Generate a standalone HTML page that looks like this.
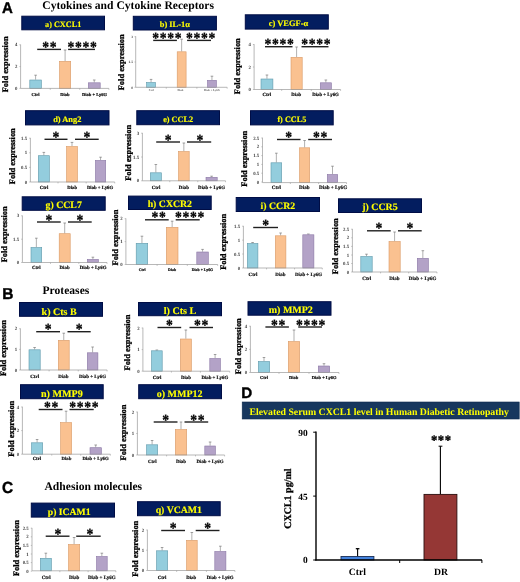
<!DOCTYPE html>
<html><head><meta charset="utf-8"><title>Figure</title>
<style>html,body{margin:0;padding:0;background:#fff;} svg{display:block;}</style>
</head><body>
<svg width="520" height="582" viewBox="0 0 520 582" text-rendering="geometricPrecision">
<rect width="520" height="582" fill="#fff"/>
<rect x="21.80" y="16.20" width="82.70" height="13.60" fill="#031d5f" stroke="#000d45" stroke-width="1.0"/>
<text x="63.15" y="26.85" font-family="'Liberation Serif', 'Times New Roman', serif" font-weight="bold" font-size="8.2" fill="#ffff00" text-anchor="middle" stroke="#ffff00" stroke-width="0.12">a) CXCL1</text>
<text x="0" y="0" font-family="'Liberation Serif', 'Times New Roman', serif" font-weight="bold" font-size="8.4" text-anchor="middle" stroke="#000" stroke-width="0.3" transform="translate(7.95,64.30) rotate(-90)">Fold expression</text>
<line x1="35.60" y1="79.70" x2="35.60" y2="75.20" stroke="#7a7a7a" stroke-width="0.6"/>
<line x1="34.30" y1="75.20" x2="36.90" y2="75.20" stroke="#7a7a7a" stroke-width="0.7"/>
<rect x="29.80" y="80.00" width="11.60" height="8.40" fill="#93cddd" stroke="#5f98aa" stroke-width="0.6"/>
<line x1="65.10" y1="61.00" x2="65.10" y2="50.00" stroke="#7a7a7a" stroke-width="0.6"/>
<line x1="63.80" y1="50.00" x2="66.40" y2="50.00" stroke="#7a7a7a" stroke-width="0.7"/>
<rect x="59.50" y="61.30" width="11.20" height="27.10" fill="#fac190" stroke="#d99a66" stroke-width="0.6"/>
<line x1="94.25" y1="82.50" x2="94.25" y2="80.00" stroke="#7a7a7a" stroke-width="0.6"/>
<line x1="92.95" y1="80.00" x2="95.55" y2="80.00" stroke="#7a7a7a" stroke-width="0.7"/>
<rect x="88.30" y="82.80" width="11.90" height="5.60" fill="#b3a2c7" stroke="#8a77a5" stroke-width="0.6"/>
<line x1="20.60" y1="44.50" x2="20.60" y2="88.40" stroke="#9a9a9a" stroke-width="0.7"/>
<line x1="20.60" y1="88.40" x2="108.91" y2="88.40" stroke="#9a9a9a" stroke-width="0.7"/>
<line x1="19.40" y1="44.80" x2="20.60" y2="44.80" stroke="#9a9a9a" stroke-width="0.6"/>
<text x="17.30" y="46.43" font-family="'Liberation Serif', 'Times New Roman', serif" font-weight="bold" font-size="4.8" fill="#444" text-anchor="end" >4</text>
<line x1="19.40" y1="66.60" x2="20.60" y2="66.60" stroke="#9a9a9a" stroke-width="0.6"/>
<text x="17.30" y="68.23" font-family="'Liberation Serif', 'Times New Roman', serif" font-weight="bold" font-size="4.8" fill="#444" text-anchor="end" >2</text>
<line x1="19.40" y1="88.40" x2="20.60" y2="88.40" stroke="#9a9a9a" stroke-width="0.6"/>
<text x="17.30" y="90.03" font-family="'Liberation Serif', 'Times New Roman', serif" font-weight="bold" font-size="4.8" fill="#444" text-anchor="end" >0</text>
<line x1="50.26" y1="88.40" x2="50.26" y2="89.80" stroke="#9a9a9a" stroke-width="0.6"/>
<line x1="79.76" y1="88.40" x2="79.76" y2="89.80" stroke="#9a9a9a" stroke-width="0.6"/>
<line x1="108.91" y1="88.40" x2="108.91" y2="89.80" stroke="#9a9a9a" stroke-width="0.6"/>
<line x1="37.20" y1="49.40" x2="61.00" y2="49.40" stroke="#202020" stroke-width="1.4"/>
<text x="0" y="0" font-family="'Liberation Serif', 'Times New Roman', serif" font-weight="bold" font-size="15.5" text-anchor="middle" stroke="#000" stroke-width="0.3" transform="translate(45.60,51.94) scale(0.88,1)">*</text>
<text x="0" y="0" font-family="'Liberation Serif', 'Times New Roman', serif" font-weight="bold" font-size="15.5" text-anchor="middle" stroke="#000" stroke-width="0.3" transform="translate(53.10,51.94) scale(0.88,1)">*</text>
<line x1="68.10" y1="49.40" x2="95.00" y2="49.40" stroke="#202020" stroke-width="1.4"/>
<text x="0" y="0" font-family="'Liberation Serif', 'Times New Roman', serif" font-weight="bold" font-size="15.5" text-anchor="middle" stroke="#000" stroke-width="0.3" transform="translate(70.90,51.94) scale(0.88,1)">*</text>
<text x="0" y="0" font-family="'Liberation Serif', 'Times New Roman', serif" font-weight="bold" font-size="15.5" text-anchor="middle" stroke="#000" stroke-width="0.3" transform="translate(78.40,51.94) scale(0.88,1)">*</text>
<text x="0" y="0" font-family="'Liberation Serif', 'Times New Roman', serif" font-weight="bold" font-size="15.5" text-anchor="middle" stroke="#000" stroke-width="0.3" transform="translate(85.90,51.94) scale(0.88,1)">*</text>
<text x="0" y="0" font-family="'Liberation Serif', 'Times New Roman', serif" font-weight="bold" font-size="15.5" text-anchor="middle" stroke="#000" stroke-width="0.3" transform="translate(93.40,51.94) scale(0.88,1)">*</text>
<text x="35.60" y="95.60" font-family="'Liberation Serif', 'Times New Roman', serif" font-weight="bold" font-size="4.5" fill="#111" text-anchor="middle" stroke="#111" stroke-width="0.2">Ctrl</text>
<text x="65.00" y="95.60" font-family="'Liberation Serif', 'Times New Roman', serif" font-weight="bold" font-size="4.5" fill="#111" text-anchor="middle" stroke="#111" stroke-width="0.2">Diab</text>
<text x="94.50" y="95.60" font-family="'Liberation Serif', 'Times New Roman', serif" font-weight="bold" font-size="4.5" fill="#111" text-anchor="middle" stroke="#111" stroke-width="0.2">Diab + Ly6G</text>
<rect x="133.30" y="16.30" width="83.10" height="13.70" fill="#031d5f" stroke="#000d45" stroke-width="1.0"/>
<text x="174.85" y="27.10" font-family="'Liberation Serif', 'Times New Roman', serif" font-weight="bold" font-size="8.4" fill="#ffff00" text-anchor="middle" stroke="#ffff00" stroke-width="0.12">b) IL-1α</text>
<text x="0" y="0" font-family="'Liberation Serif', 'Times New Roman', serif" font-weight="bold" font-size="8.4" text-anchor="middle" stroke="#000" stroke-width="0.3" transform="translate(124.35,62.30) rotate(-90)">Fold expression</text>
<line x1="151.05" y1="82.20" x2="151.05" y2="79.40" stroke="#7a7a7a" stroke-width="0.6"/>
<line x1="149.75" y1="79.40" x2="152.35" y2="79.40" stroke="#7a7a7a" stroke-width="0.7"/>
<rect x="146.60" y="82.50" width="8.90" height="4.80" fill="#93cddd" stroke="#5f98aa" stroke-width="0.6"/>
<line x1="181.65" y1="51.50" x2="181.65" y2="39.20" stroke="#7a7a7a" stroke-width="0.6"/>
<line x1="180.35" y1="39.20" x2="182.95" y2="39.20" stroke="#7a7a7a" stroke-width="0.7"/>
<rect x="177.20" y="51.80" width="8.90" height="35.50" fill="#fac190" stroke="#d99a66" stroke-width="0.6"/>
<line x1="211.95" y1="80.00" x2="211.95" y2="76.20" stroke="#7a7a7a" stroke-width="0.6"/>
<line x1="210.65" y1="76.20" x2="213.25" y2="76.20" stroke="#7a7a7a" stroke-width="0.7"/>
<rect x="207.50" y="80.30" width="8.90" height="7.00" fill="#b3a2c7" stroke="#8a77a5" stroke-width="0.6"/>
<line x1="135.70" y1="36.20" x2="135.70" y2="87.30" stroke="#9a9a9a" stroke-width="0.7"/>
<line x1="135.70" y1="87.30" x2="227.17" y2="87.30" stroke="#9a9a9a" stroke-width="0.7"/>
<line x1="134.50" y1="36.70" x2="135.70" y2="36.70" stroke="#9a9a9a" stroke-width="0.6"/>
<text x="133.10" y="37.92" font-family="'Liberation Serif', 'Times New Roman', serif" font-weight="bold" font-size="3.6" fill="#444" text-anchor="end" >3</text>
<line x1="134.50" y1="62.00" x2="135.70" y2="62.00" stroke="#9a9a9a" stroke-width="0.6"/>
<text x="133.10" y="63.22" font-family="'Liberation Serif', 'Times New Roman', serif" font-weight="bold" font-size="3.6" fill="#444" text-anchor="end" >1.5</text>
<line x1="134.50" y1="87.30" x2="135.70" y2="87.30" stroke="#9a9a9a" stroke-width="0.6"/>
<text x="133.10" y="88.52" font-family="'Liberation Serif', 'Times New Roman', serif" font-weight="bold" font-size="3.6" fill="#444" text-anchor="end" >0</text>
<line x1="166.28" y1="87.30" x2="166.28" y2="88.70" stroke="#9a9a9a" stroke-width="0.6"/>
<line x1="196.88" y1="87.30" x2="196.88" y2="88.70" stroke="#9a9a9a" stroke-width="0.6"/>
<line x1="227.17" y1="87.30" x2="227.17" y2="88.70" stroke="#9a9a9a" stroke-width="0.6"/>
<line x1="153.20" y1="40.40" x2="176.90" y2="40.40" stroke="#202020" stroke-width="1.4"/>
<text x="0" y="0" font-family="'Liberation Serif', 'Times New Roman', serif" font-weight="bold" font-size="15.5" text-anchor="middle" stroke="#000" stroke-width="0.3" transform="translate(155.55,42.94) scale(0.88,1)">*</text>
<text x="0" y="0" font-family="'Liberation Serif', 'Times New Roman', serif" font-weight="bold" font-size="15.5" text-anchor="middle" stroke="#000" stroke-width="0.3" transform="translate(163.05,42.94) scale(0.88,1)">*</text>
<text x="0" y="0" font-family="'Liberation Serif', 'Times New Roman', serif" font-weight="bold" font-size="15.5" text-anchor="middle" stroke="#000" stroke-width="0.3" transform="translate(170.55,42.94) scale(0.88,1)">*</text>
<text x="0" y="0" font-family="'Liberation Serif', 'Times New Roman', serif" font-weight="bold" font-size="15.5" text-anchor="middle" stroke="#000" stroke-width="0.3" transform="translate(178.05,42.94) scale(0.88,1)">*</text>
<line x1="187.10" y1="40.40" x2="211.00" y2="40.40" stroke="#202020" stroke-width="1.4"/>
<text x="0" y="0" font-family="'Liberation Serif', 'Times New Roman', serif" font-weight="bold" font-size="15.5" text-anchor="middle" stroke="#000" stroke-width="0.3" transform="translate(189.40,42.94) scale(0.88,1)">*</text>
<text x="0" y="0" font-family="'Liberation Serif', 'Times New Roman', serif" font-weight="bold" font-size="15.5" text-anchor="middle" stroke="#000" stroke-width="0.3" transform="translate(196.90,42.94) scale(0.88,1)">*</text>
<text x="0" y="0" font-family="'Liberation Serif', 'Times New Roman', serif" font-weight="bold" font-size="15.5" text-anchor="middle" stroke="#000" stroke-width="0.3" transform="translate(204.40,42.94) scale(0.88,1)">*</text>
<text x="0" y="0" font-family="'Liberation Serif', 'Times New Roman', serif" font-weight="bold" font-size="15.5" text-anchor="middle" stroke="#000" stroke-width="0.3" transform="translate(211.90,42.94) scale(0.88,1)">*</text>
<text x="151.30" y="90.90" font-family="'Liberation Serif', 'Times New Roman', serif" font-weight="bold" font-size="2.9" fill="#666" text-anchor="middle" stroke="#666" stroke-width="0">Ctrl</text>
<text x="180.40" y="90.90" font-family="'Liberation Serif', 'Times New Roman', serif" font-weight="bold" font-size="2.9" fill="#666" text-anchor="middle" stroke="#666" stroke-width="0">Diab</text>
<text x="212.00" y="90.90" font-family="'Liberation Serif', 'Times New Roman', serif" font-weight="bold" font-size="2.9" fill="#666" text-anchor="middle" stroke="#666" stroke-width="0">Diab + Ly6G</text>
<rect x="245.30" y="14.80" width="83.00" height="14.30" fill="#031d5f" stroke="#000d45" stroke-width="1.0"/>
<text x="288.50" y="25.92" font-family="'Liberation Serif', 'Times New Roman', serif" font-weight="bold" font-size="8.45" fill="#ffff00" text-anchor="middle" stroke="#ffff00" stroke-width="0.12">c) VEGF-α</text>
<text x="0" y="0" font-family="'Liberation Serif', 'Times New Roman', serif" font-weight="bold" font-size="8.4" text-anchor="middle" stroke="#000" stroke-width="0.3" transform="translate(240.05,66.20) rotate(-90)">Fold expression</text>
<line x1="266.95" y1="78.70" x2="266.95" y2="75.00" stroke="#7a7a7a" stroke-width="0.6"/>
<line x1="265.65" y1="75.00" x2="268.25" y2="75.00" stroke="#7a7a7a" stroke-width="0.7"/>
<rect x="261.00" y="79.00" width="11.90" height="10.50" fill="#93cddd" stroke="#5f98aa" stroke-width="0.6"/>
<line x1="296.60" y1="57.00" x2="296.60" y2="47.00" stroke="#7a7a7a" stroke-width="0.6"/>
<line x1="295.30" y1="47.00" x2="297.90" y2="47.00" stroke="#7a7a7a" stroke-width="0.7"/>
<rect x="291.00" y="57.30" width="11.20" height="32.20" fill="#fac190" stroke="#d99a66" stroke-width="0.6"/>
<line x1="325.85" y1="82.50" x2="325.85" y2="80.00" stroke="#7a7a7a" stroke-width="0.6"/>
<line x1="324.55" y1="80.00" x2="327.15" y2="80.00" stroke="#7a7a7a" stroke-width="0.7"/>
<rect x="320.30" y="82.80" width="11.10" height="6.70" fill="#b3a2c7" stroke="#8a77a5" stroke-width="0.6"/>
<line x1="254.10" y1="44.20" x2="254.10" y2="89.50" stroke="#9a9a9a" stroke-width="0.7"/>
<line x1="254.10" y1="89.50" x2="340.58" y2="89.50" stroke="#9a9a9a" stroke-width="0.7"/>
<line x1="252.90" y1="44.50" x2="254.10" y2="44.50" stroke="#9a9a9a" stroke-width="0.6"/>
<text x="250.80" y="46.13" font-family="'Liberation Serif', 'Times New Roman', serif" font-weight="bold" font-size="4.8" fill="#444" text-anchor="end" >4</text>
<line x1="252.90" y1="67.00" x2="254.10" y2="67.00" stroke="#9a9a9a" stroke-width="0.6"/>
<text x="250.80" y="68.63" font-family="'Liberation Serif', 'Times New Roman', serif" font-weight="bold" font-size="4.8" fill="#444" text-anchor="end" >2</text>
<line x1="252.90" y1="89.50" x2="254.10" y2="89.50" stroke="#9a9a9a" stroke-width="0.6"/>
<text x="250.80" y="91.13" font-family="'Liberation Serif', 'Times New Roman', serif" font-weight="bold" font-size="4.8" fill="#444" text-anchor="end" >0</text>
<line x1="281.68" y1="89.50" x2="281.68" y2="90.90" stroke="#9a9a9a" stroke-width="0.6"/>
<line x1="311.33" y1="89.50" x2="311.33" y2="90.90" stroke="#9a9a9a" stroke-width="0.6"/>
<line x1="340.58" y1="89.50" x2="340.58" y2="90.90" stroke="#9a9a9a" stroke-width="0.6"/>
<line x1="265.00" y1="46.70" x2="292.50" y2="46.70" stroke="#202020" stroke-width="1.4"/>
<text x="0" y="0" font-family="'Liberation Serif', 'Times New Roman', serif" font-weight="bold" font-size="15.5" text-anchor="middle" stroke="#000" stroke-width="0.3" transform="translate(267.80,49.24) scale(0.88,1)">*</text>
<text x="0" y="0" font-family="'Liberation Serif', 'Times New Roman', serif" font-weight="bold" font-size="15.5" text-anchor="middle" stroke="#000" stroke-width="0.3" transform="translate(275.30,49.24) scale(0.88,1)">*</text>
<text x="0" y="0" font-family="'Liberation Serif', 'Times New Roman', serif" font-weight="bold" font-size="15.5" text-anchor="middle" stroke="#000" stroke-width="0.3" transform="translate(282.80,49.24) scale(0.88,1)">*</text>
<text x="0" y="0" font-family="'Liberation Serif', 'Times New Roman', serif" font-weight="bold" font-size="15.5" text-anchor="middle" stroke="#000" stroke-width="0.3" transform="translate(290.30,49.24) scale(0.88,1)">*</text>
<line x1="301.50" y1="46.70" x2="328.50" y2="46.70" stroke="#202020" stroke-width="1.4"/>
<text x="0" y="0" font-family="'Liberation Serif', 'Times New Roman', serif" font-weight="bold" font-size="15.5" text-anchor="middle" stroke="#000" stroke-width="0.3" transform="translate(304.75,49.24) scale(0.88,1)">*</text>
<text x="0" y="0" font-family="'Liberation Serif', 'Times New Roman', serif" font-weight="bold" font-size="15.5" text-anchor="middle" stroke="#000" stroke-width="0.3" transform="translate(312.25,49.24) scale(0.88,1)">*</text>
<text x="0" y="0" font-family="'Liberation Serif', 'Times New Roman', serif" font-weight="bold" font-size="15.5" text-anchor="middle" stroke="#000" stroke-width="0.3" transform="translate(319.75,49.24) scale(0.88,1)">*</text>
<text x="0" y="0" font-family="'Liberation Serif', 'Times New Roman', serif" font-weight="bold" font-size="15.5" text-anchor="middle" stroke="#000" stroke-width="0.3" transform="translate(327.25,49.24) scale(0.88,1)">*</text>
<text x="266.70" y="95.90" font-family="'Liberation Serif', 'Times New Roman', serif" font-weight="bold" font-size="4.85" fill="#111" text-anchor="middle" stroke="#111" stroke-width="0.2">Ctrl</text>
<text x="296.30" y="95.90" font-family="'Liberation Serif', 'Times New Roman', serif" font-weight="bold" font-size="4.85" fill="#111" text-anchor="middle" stroke="#111" stroke-width="0.2">Diab</text>
<text x="325.50" y="95.90" font-family="'Liberation Serif', 'Times New Roman', serif" font-weight="bold" font-size="4.85" fill="#111" text-anchor="middle" stroke="#111" stroke-width="0.2">Diab + Ly6G</text>
<rect x="25.50" y="110.70" width="83.50" height="14.20" fill="#031d5f" stroke="#000d45" stroke-width="1.0"/>
<text x="67.25" y="121.75" font-family="'Liberation Serif', 'Times New Roman', serif" font-weight="bold" font-size="8.4" fill="#ffff00" text-anchor="middle" stroke="#ffff00" stroke-width="0.12">d) Ang2</text>
<text x="0" y="0" font-family="'Liberation Serif', 'Times New Roman', serif" font-weight="bold" font-size="8.4" text-anchor="middle" stroke="#000" stroke-width="0.3" transform="translate(14.85,156.20) rotate(-90)">Fold expression</text>
<line x1="43.85" y1="155.40" x2="43.85" y2="152.40" stroke="#7a7a7a" stroke-width="0.6"/>
<line x1="42.55" y1="152.40" x2="45.15" y2="152.40" stroke="#7a7a7a" stroke-width="0.7"/>
<rect x="38.30" y="155.70" width="11.10" height="26.30" fill="#93cddd" stroke="#5f98aa" stroke-width="0.6"/>
<line x1="72.00" y1="146.20" x2="72.00" y2="142.40" stroke="#7a7a7a" stroke-width="0.6"/>
<line x1="70.70" y1="142.40" x2="73.30" y2="142.40" stroke="#7a7a7a" stroke-width="0.7"/>
<rect x="66.50" y="146.50" width="11.00" height="35.50" fill="#fac190" stroke="#d99a66" stroke-width="0.6"/>
<line x1="100.55" y1="160.10" x2="100.55" y2="157.20" stroke="#7a7a7a" stroke-width="0.6"/>
<line x1="99.25" y1="157.20" x2="101.85" y2="157.20" stroke="#7a7a7a" stroke-width="0.7"/>
<rect x="95.40" y="160.40" width="10.30" height="21.60" fill="#b3a2c7" stroke="#8a77a5" stroke-width="0.6"/>
<line x1="30.40" y1="137.90" x2="30.40" y2="182.00" stroke="#9a9a9a" stroke-width="0.7"/>
<line x1="30.40" y1="182.00" x2="114.72" y2="182.00" stroke="#9a9a9a" stroke-width="0.7"/>
<line x1="29.20" y1="138.20" x2="30.40" y2="138.20" stroke="#9a9a9a" stroke-width="0.6"/>
<text x="27.10" y="139.83" font-family="'Liberation Serif', 'Times New Roman', serif" font-weight="bold" font-size="4.8" fill="#444" text-anchor="end" >1.5</text>
<line x1="29.20" y1="152.80" x2="30.40" y2="152.80" stroke="#9a9a9a" stroke-width="0.6"/>
<text x="27.10" y="154.43" font-family="'Liberation Serif', 'Times New Roman', serif" font-weight="bold" font-size="4.8" fill="#444" text-anchor="end" >1</text>
<line x1="29.20" y1="167.40" x2="30.40" y2="167.40" stroke="#9a9a9a" stroke-width="0.6"/>
<text x="27.10" y="169.03" font-family="'Liberation Serif', 'Times New Roman', serif" font-weight="bold" font-size="4.8" fill="#444" text-anchor="end" >0.5</text>
<line x1="29.20" y1="182.00" x2="30.40" y2="182.00" stroke="#9a9a9a" stroke-width="0.6"/>
<text x="27.10" y="183.63" font-family="'Liberation Serif', 'Times New Roman', serif" font-weight="bold" font-size="4.8" fill="#444" text-anchor="end" >0</text>
<line x1="58.02" y1="182.00" x2="58.02" y2="183.40" stroke="#9a9a9a" stroke-width="0.6"/>
<line x1="86.17" y1="182.00" x2="86.17" y2="183.40" stroke="#9a9a9a" stroke-width="0.6"/>
<line x1="114.72" y1="182.00" x2="114.72" y2="183.40" stroke="#9a9a9a" stroke-width="0.6"/>
<line x1="44.50" y1="139.30" x2="67.50" y2="139.30" stroke="#202020" stroke-width="1.4"/>
<text x="0" y="0" font-family="'Liberation Serif', 'Times New Roman', serif" font-weight="bold" font-size="15.5" text-anchor="middle" stroke="#000" stroke-width="0.3" transform="translate(56.00,141.84) scale(0.88,1)">*</text>
<line x1="75.00" y1="139.30" x2="98.70" y2="139.30" stroke="#202020" stroke-width="1.4"/>
<text x="0" y="0" font-family="'Liberation Serif', 'Times New Roman', serif" font-weight="bold" font-size="15.5" text-anchor="middle" stroke="#000" stroke-width="0.3" transform="translate(86.85,141.84) scale(0.88,1)">*</text>
<text x="44.00" y="189.40" font-family="'Liberation Serif', 'Times New Roman', serif" font-weight="bold" font-size="4.75" fill="#111" text-anchor="middle" stroke="#111" stroke-width="0.2">Ctrl</text>
<text x="72.20" y="189.40" font-family="'Liberation Serif', 'Times New Roman', serif" font-weight="bold" font-size="4.75" fill="#111" text-anchor="middle" stroke="#111" stroke-width="0.2">Diab</text>
<text x="100.00" y="189.40" font-family="'Liberation Serif', 'Times New Roman', serif" font-weight="bold" font-size="4.75" fill="#111" text-anchor="middle" stroke="#111" stroke-width="0.2">Diab + Ly6G</text>
<rect x="136.80" y="110.70" width="82.70" height="14.00" fill="#031d5f" stroke="#000d45" stroke-width="1.0"/>
<text x="178.15" y="121.58" font-family="'Liberation Serif', 'Times New Roman', serif" font-weight="bold" font-size="8.25" fill="#ffff00" text-anchor="middle" stroke="#ffff00" stroke-width="0.12">e) CCL2</text>
<text x="0" y="0" font-family="'Liberation Serif', 'Times New Roman', serif" font-weight="bold" font-size="8.4" text-anchor="middle" stroke="#000" stroke-width="0.3" transform="translate(130.75,152.80) rotate(-90)">Fold expression</text>
<line x1="155.85" y1="172.50" x2="155.85" y2="164.50" stroke="#7a7a7a" stroke-width="0.6"/>
<line x1="154.55" y1="164.50" x2="157.15" y2="164.50" stroke="#7a7a7a" stroke-width="0.7"/>
<rect x="150.30" y="172.80" width="11.10" height="8.00" fill="#93cddd" stroke="#5f98aa" stroke-width="0.6"/>
<line x1="183.85" y1="151.20" x2="183.85" y2="143.00" stroke="#7a7a7a" stroke-width="0.6"/>
<line x1="182.55" y1="143.00" x2="185.15" y2="143.00" stroke="#7a7a7a" stroke-width="0.7"/>
<rect x="178.50" y="151.50" width="10.70" height="29.30" fill="#fac190" stroke="#d99a66" stroke-width="0.6"/>
<line x1="211.60" y1="177.00" x2="211.60" y2="176.20" stroke="#7a7a7a" stroke-width="0.6"/>
<line x1="210.30" y1="176.20" x2="212.90" y2="176.20" stroke="#7a7a7a" stroke-width="0.7"/>
<rect x="206.00" y="177.30" width="11.20" height="3.50" fill="#b3a2c7" stroke="#8a77a5" stroke-width="0.6"/>
<line x1="142.40" y1="132.90" x2="142.40" y2="180.80" stroke="#9a9a9a" stroke-width="0.7"/>
<line x1="142.40" y1="180.80" x2="225.54" y2="180.80" stroke="#9a9a9a" stroke-width="0.7"/>
<line x1="141.20" y1="133.20" x2="142.40" y2="133.20" stroke="#9a9a9a" stroke-width="0.6"/>
<text x="139.10" y="134.83" font-family="'Liberation Serif', 'Times New Roman', serif" font-weight="bold" font-size="4.8" fill="#444" text-anchor="end" >3</text>
<line x1="141.20" y1="157.00" x2="142.40" y2="157.00" stroke="#9a9a9a" stroke-width="0.6"/>
<text x="139.10" y="158.63" font-family="'Liberation Serif', 'Times New Roman', serif" font-weight="bold" font-size="4.8" fill="#444" text-anchor="end" >1.5</text>
<line x1="141.20" y1="180.80" x2="142.40" y2="180.80" stroke="#9a9a9a" stroke-width="0.6"/>
<text x="139.10" y="182.43" font-family="'Liberation Serif', 'Times New Roman', serif" font-weight="bold" font-size="4.8" fill="#444" text-anchor="end" >0</text>
<line x1="169.79" y1="180.80" x2="169.79" y2="182.20" stroke="#9a9a9a" stroke-width="0.6"/>
<line x1="197.79" y1="180.80" x2="197.79" y2="182.20" stroke="#9a9a9a" stroke-width="0.6"/>
<line x1="225.54" y1="180.80" x2="225.54" y2="182.20" stroke="#9a9a9a" stroke-width="0.6"/>
<line x1="156.20" y1="142.00" x2="180.00" y2="142.00" stroke="#202020" stroke-width="1.4"/>
<text x="0" y="0" font-family="'Liberation Serif', 'Times New Roman', serif" font-weight="bold" font-size="15.5" text-anchor="middle" stroke="#000" stroke-width="0.3" transform="translate(168.10,144.54) scale(0.88,1)">*</text>
<line x1="187.00" y1="142.00" x2="211.20" y2="142.00" stroke="#202020" stroke-width="1.4"/>
<text x="0" y="0" font-family="'Liberation Serif', 'Times New Roman', serif" font-weight="bold" font-size="15.5" text-anchor="middle" stroke="#000" stroke-width="0.3" transform="translate(200.00,144.54) scale(0.88,1)">*</text>
<text x="156.00" y="188.50" font-family="'Liberation Serif', 'Times New Roman', serif" font-weight="bold" font-size="4.9" fill="#111" text-anchor="middle" stroke="#111" stroke-width="0.2">Ctrl</text>
<text x="183.90" y="188.50" font-family="'Liberation Serif', 'Times New Roman', serif" font-weight="bold" font-size="4.9" fill="#111" text-anchor="middle" stroke="#111" stroke-width="0.2">Diab</text>
<text x="211.60" y="188.50" font-family="'Liberation Serif', 'Times New Roman', serif" font-weight="bold" font-size="4.9" fill="#111" text-anchor="middle" stroke="#111" stroke-width="0.2">Diab + Ly6G</text>
<rect x="250.50" y="110.70" width="82.70" height="14.20" fill="#031d5f" stroke="#000d45" stroke-width="1.0"/>
<text x="291.85" y="121.65" font-family="'Liberation Serif', 'Times New Roman', serif" font-weight="bold" font-size="8.2" fill="#ffff00" text-anchor="middle" stroke="#ffff00" stroke-width="0.12">f) CCL5</text>
<text x="0" y="0" font-family="'Liberation Serif', 'Times New Roman', serif" font-weight="bold" font-size="8.4" text-anchor="middle" stroke="#000" stroke-width="0.3" transform="translate(246.95,158.70) rotate(-90)">Fold expression</text>
<line x1="276.35" y1="162.50" x2="276.35" y2="153.20" stroke="#7a7a7a" stroke-width="0.6"/>
<line x1="275.05" y1="153.20" x2="277.65" y2="153.20" stroke="#7a7a7a" stroke-width="0.7"/>
<rect x="271.00" y="162.80" width="10.70" height="19.80" fill="#93cddd" stroke="#5f98aa" stroke-width="0.6"/>
<line x1="304.60" y1="147.50" x2="304.60" y2="140.50" stroke="#7a7a7a" stroke-width="0.6"/>
<line x1="303.30" y1="140.50" x2="305.90" y2="140.50" stroke="#7a7a7a" stroke-width="0.7"/>
<rect x="299.50" y="147.80" width="10.20" height="34.80" fill="#fac190" stroke="#d99a66" stroke-width="0.6"/>
<line x1="332.50" y1="174.20" x2="332.50" y2="166.20" stroke="#7a7a7a" stroke-width="0.6"/>
<line x1="331.20" y1="166.20" x2="333.80" y2="166.20" stroke="#7a7a7a" stroke-width="0.7"/>
<rect x="327.30" y="174.50" width="10.40" height="8.10" fill="#b3a2c7" stroke="#8a77a5" stroke-width="0.6"/>
<line x1="262.50" y1="137.70" x2="262.50" y2="182.60" stroke="#9a9a9a" stroke-width="0.7"/>
<line x1="262.50" y1="182.60" x2="346.54" y2="182.60" stroke="#9a9a9a" stroke-width="0.7"/>
<line x1="261.30" y1="138.00" x2="262.50" y2="138.00" stroke="#9a9a9a" stroke-width="0.6"/>
<text x="259.20" y="139.63" font-family="'Liberation Serif', 'Times New Roman', serif" font-weight="bold" font-size="4.8" fill="#444" text-anchor="end" >2.5</text>
<line x1="261.30" y1="146.80" x2="262.50" y2="146.80" stroke="#9a9a9a" stroke-width="0.6"/>
<text x="259.20" y="148.43" font-family="'Liberation Serif', 'Times New Roman', serif" font-weight="bold" font-size="4.8" fill="#444" text-anchor="end" >2</text>
<line x1="261.30" y1="155.60" x2="262.50" y2="155.60" stroke="#9a9a9a" stroke-width="0.6"/>
<text x="259.20" y="157.23" font-family="'Liberation Serif', 'Times New Roman', serif" font-weight="bold" font-size="4.8" fill="#444" text-anchor="end" >1.5</text>
<line x1="261.30" y1="164.40" x2="262.50" y2="164.40" stroke="#9a9a9a" stroke-width="0.6"/>
<text x="259.20" y="166.03" font-family="'Liberation Serif', 'Times New Roman', serif" font-weight="bold" font-size="4.8" fill="#444" text-anchor="end" >1</text>
<line x1="261.30" y1="173.20" x2="262.50" y2="173.20" stroke="#9a9a9a" stroke-width="0.6"/>
<text x="259.20" y="174.83" font-family="'Liberation Serif', 'Times New Roman', serif" font-weight="bold" font-size="4.8" fill="#444" text-anchor="end" >0.5</text>
<line x1="261.30" y1="182.00" x2="262.50" y2="182.00" stroke="#9a9a9a" stroke-width="0.6"/>
<text x="259.20" y="183.63" font-family="'Liberation Serif', 'Times New Roman', serif" font-weight="bold" font-size="4.8" fill="#444" text-anchor="end" >0</text>
<line x1="290.39" y1="182.60" x2="290.39" y2="184.00" stroke="#9a9a9a" stroke-width="0.6"/>
<line x1="318.64" y1="182.60" x2="318.64" y2="184.00" stroke="#9a9a9a" stroke-width="0.6"/>
<line x1="346.54" y1="182.60" x2="346.54" y2="184.00" stroke="#9a9a9a" stroke-width="0.6"/>
<line x1="277.00" y1="139.50" x2="300.50" y2="139.50" stroke="#202020" stroke-width="1.4"/>
<text x="0" y="0" font-family="'Liberation Serif', 'Times New Roman', serif" font-weight="bold" font-size="15.5" text-anchor="middle" stroke="#000" stroke-width="0.3" transform="translate(288.75,142.04) scale(0.88,1)">*</text>
<line x1="308.20" y1="139.50" x2="332.00" y2="139.50" stroke="#202020" stroke-width="1.4"/>
<text x="0" y="0" font-family="'Liberation Serif', 'Times New Roman', serif" font-weight="bold" font-size="15.5" text-anchor="middle" stroke="#000" stroke-width="0.3" transform="translate(316.35,142.04) scale(0.88,1)">*</text>
<text x="0" y="0" font-family="'Liberation Serif', 'Times New Roman', serif" font-weight="bold" font-size="15.5" text-anchor="middle" stroke="#000" stroke-width="0.3" transform="translate(323.85,142.04) scale(0.88,1)">*</text>
<text x="276.40" y="188.80" font-family="'Liberation Serif', 'Times New Roman', serif" font-weight="bold" font-size="5.1" fill="#111" text-anchor="middle" stroke="#111" stroke-width="0.2">Ctrl</text>
<text x="304.30" y="188.80" font-family="'Liberation Serif', 'Times New Roman', serif" font-weight="bold" font-size="5.1" fill="#111" text-anchor="middle" stroke="#111" stroke-width="0.2">Diab</text>
<text x="333.10" y="188.80" font-family="'Liberation Serif', 'Times New Roman', serif" font-weight="bold" font-size="5.1" fill="#111" text-anchor="middle" stroke="#111" stroke-width="0.2">Diab + Ly6G</text>
<rect x="22.20" y="196.80" width="83.00" height="13.50" fill="#031d5f" stroke="#000d45" stroke-width="1.0"/>
<text x="63.70" y="208.16" font-family="'Liberation Serif', 'Times New Roman', serif" font-weight="bold" font-size="9.8" fill="#ffff00" text-anchor="middle" stroke="#ffff00" stroke-width="0.12">g) CCL7</text>
<text x="0" y="0" font-family="'Liberation Serif', 'Times New Roman', serif" font-weight="bold" font-size="8.4" text-anchor="middle" stroke="#000" stroke-width="0.3" transform="translate(7.35,234.40) rotate(-90)">Fold expression</text>
<line x1="36.35" y1="247.20" x2="36.35" y2="238.20" stroke="#7a7a7a" stroke-width="0.6"/>
<line x1="35.05" y1="238.20" x2="37.65" y2="238.20" stroke="#7a7a7a" stroke-width="0.7"/>
<rect x="31.00" y="247.50" width="10.70" height="15.00" fill="#93cddd" stroke="#5f98aa" stroke-width="0.6"/>
<line x1="64.70" y1="233.40" x2="64.70" y2="223.00" stroke="#7a7a7a" stroke-width="0.6"/>
<line x1="63.40" y1="223.00" x2="66.00" y2="223.00" stroke="#7a7a7a" stroke-width="0.7"/>
<rect x="59.20" y="233.70" width="11.00" height="28.80" fill="#fac190" stroke="#d99a66" stroke-width="0.6"/>
<line x1="92.90" y1="259.10" x2="92.90" y2="257.20" stroke="#7a7a7a" stroke-width="0.6"/>
<line x1="91.60" y1="257.20" x2="94.20" y2="257.20" stroke="#7a7a7a" stroke-width="0.7"/>
<rect x="87.40" y="259.40" width="11.00" height="3.10" fill="#b3a2c7" stroke="#8a77a5" stroke-width="0.6"/>
<line x1="22.40" y1="215.50" x2="22.40" y2="262.50" stroke="#9a9a9a" stroke-width="0.7"/>
<line x1="22.40" y1="262.50" x2="107.04" y2="262.50" stroke="#9a9a9a" stroke-width="0.7"/>
<line x1="21.20" y1="215.80" x2="22.40" y2="215.80" stroke="#9a9a9a" stroke-width="0.6"/>
<text x="19.10" y="217.43" font-family="'Liberation Serif', 'Times New Roman', serif" font-weight="bold" font-size="4.8" fill="#444" text-anchor="end" >3</text>
<line x1="21.20" y1="239.20" x2="22.40" y2="239.20" stroke="#9a9a9a" stroke-width="0.6"/>
<text x="19.10" y="240.83" font-family="'Liberation Serif', 'Times New Roman', serif" font-weight="bold" font-size="4.8" fill="#444" text-anchor="end" >1.5</text>
<line x1="21.20" y1="262.50" x2="22.40" y2="262.50" stroke="#9a9a9a" stroke-width="0.6"/>
<text x="19.10" y="264.13" font-family="'Liberation Serif', 'Times New Roman', serif" font-weight="bold" font-size="4.8" fill="#444" text-anchor="end" >0</text>
<line x1="50.49" y1="262.50" x2="50.49" y2="263.90" stroke="#9a9a9a" stroke-width="0.6"/>
<line x1="78.84" y1="262.50" x2="78.84" y2="263.90" stroke="#9a9a9a" stroke-width="0.6"/>
<line x1="107.04" y1="262.50" x2="107.04" y2="263.90" stroke="#9a9a9a" stroke-width="0.6"/>
<line x1="37.00" y1="222.00" x2="60.70" y2="222.00" stroke="#202020" stroke-width="1.4"/>
<text x="0" y="0" font-family="'Liberation Serif', 'Times New Roman', serif" font-weight="bold" font-size="15.5" text-anchor="middle" stroke="#000" stroke-width="0.3" transform="translate(48.85,224.54) scale(0.88,1)">*</text>
<line x1="68.00" y1="222.00" x2="91.70" y2="222.00" stroke="#202020" stroke-width="1.4"/>
<text x="0" y="0" font-family="'Liberation Serif', 'Times New Roman', serif" font-weight="bold" font-size="15.5" text-anchor="middle" stroke="#000" stroke-width="0.3" transform="translate(79.85,224.54) scale(0.88,1)">*</text>
<text x="36.30" y="268.80" font-family="'Liberation Serif', 'Times New Roman', serif" font-weight="bold" font-size="4.85" fill="#111" text-anchor="middle" stroke="#111" stroke-width="0.2">Ctrl</text>
<text x="64.60" y="268.80" font-family="'Liberation Serif', 'Times New Roman', serif" font-weight="bold" font-size="4.85" fill="#111" text-anchor="middle" stroke="#111" stroke-width="0.2">Diab</text>
<text x="93.10" y="268.80" font-family="'Liberation Serif', 'Times New Roman', serif" font-weight="bold" font-size="4.85" fill="#111" text-anchor="middle" stroke="#111" stroke-width="0.2">Diab + Ly6G</text>
<rect x="128.50" y="196.10" width="82.70" height="13.40" fill="#031d5f" stroke="#000d45" stroke-width="1.0"/>
<text x="169.85" y="207.41" font-family="'Liberation Serif', 'Times New Roman', serif" font-weight="bold" font-size="9.8" fill="#ffff00" text-anchor="middle" stroke="#ffff00" stroke-width="0.12">h) CXCR2</text>
<text x="0" y="0" font-family="'Liberation Serif', 'Times New Roman', serif" font-weight="bold" font-size="8.4" text-anchor="middle" stroke="#000" stroke-width="0.3" transform="translate(118.15,237.50) rotate(-90)">Fold expression</text>
<line x1="141.95" y1="243.00" x2="141.95" y2="236.20" stroke="#7a7a7a" stroke-width="0.6"/>
<line x1="140.65" y1="236.20" x2="143.25" y2="236.20" stroke="#7a7a7a" stroke-width="0.7"/>
<rect x="136.20" y="243.30" width="11.50" height="21.20" fill="#93cddd" stroke="#5f98aa" stroke-width="0.6"/>
<line x1="172.15" y1="227.00" x2="172.15" y2="221.20" stroke="#7a7a7a" stroke-width="0.6"/>
<line x1="170.85" y1="221.20" x2="173.45" y2="221.20" stroke="#7a7a7a" stroke-width="0.7"/>
<rect x="166.30" y="227.30" width="11.70" height="37.20" fill="#fac190" stroke="#d99a66" stroke-width="0.6"/>
<line x1="202.55" y1="251.70" x2="202.55" y2="249.40" stroke="#7a7a7a" stroke-width="0.6"/>
<line x1="201.25" y1="249.40" x2="203.85" y2="249.40" stroke="#7a7a7a" stroke-width="0.7"/>
<rect x="196.80" y="252.00" width="11.50" height="12.50" fill="#b3a2c7" stroke="#8a77a5" stroke-width="0.6"/>
<line x1="125.90" y1="218.40" x2="125.90" y2="264.50" stroke="#9a9a9a" stroke-width="0.7"/>
<line x1="125.90" y1="264.50" x2="217.70" y2="264.50" stroke="#9a9a9a" stroke-width="0.7"/>
<line x1="124.70" y1="218.70" x2="125.90" y2="218.70" stroke="#9a9a9a" stroke-width="0.6"/>
<text x="122.60" y="220.33" font-family="'Liberation Serif', 'Times New Roman', serif" font-weight="bold" font-size="4.8" fill="#444" text-anchor="end" >2</text>
<line x1="124.70" y1="241.60" x2="125.90" y2="241.60" stroke="#9a9a9a" stroke-width="0.6"/>
<text x="122.60" y="243.23" font-family="'Liberation Serif', 'Times New Roman', serif" font-weight="bold" font-size="4.8" fill="#444" text-anchor="end" >1</text>
<line x1="124.70" y1="264.50" x2="125.90" y2="264.50" stroke="#9a9a9a" stroke-width="0.6"/>
<text x="122.60" y="266.13" font-family="'Liberation Serif', 'Times New Roman', serif" font-weight="bold" font-size="4.8" fill="#444" text-anchor="end" >0</text>
<line x1="157.10" y1="264.50" x2="157.10" y2="265.90" stroke="#9a9a9a" stroke-width="0.6"/>
<line x1="187.30" y1="264.50" x2="187.30" y2="265.90" stroke="#9a9a9a" stroke-width="0.6"/>
<line x1="217.70" y1="264.50" x2="217.70" y2="265.90" stroke="#9a9a9a" stroke-width="0.6"/>
<line x1="145.00" y1="219.80" x2="168.70" y2="219.80" stroke="#202020" stroke-width="1.4"/>
<text x="0" y="0" font-family="'Liberation Serif', 'Times New Roman', serif" font-weight="bold" font-size="15.5" text-anchor="middle" stroke="#000" stroke-width="0.3" transform="translate(154.80,222.34) scale(0.88,1)">*</text>
<text x="0" y="0" font-family="'Liberation Serif', 'Times New Roman', serif" font-weight="bold" font-size="15.5" text-anchor="middle" stroke="#000" stroke-width="0.3" transform="translate(162.30,222.34) scale(0.88,1)">*</text>
<line x1="175.70" y1="219.80" x2="199.70" y2="219.80" stroke="#202020" stroke-width="1.4"/>
<text x="0" y="0" font-family="'Liberation Serif', 'Times New Roman', serif" font-weight="bold" font-size="15.5" text-anchor="middle" stroke="#000" stroke-width="0.3" transform="translate(178.45,222.34) scale(0.88,1)">*</text>
<text x="0" y="0" font-family="'Liberation Serif', 'Times New Roman', serif" font-weight="bold" font-size="15.5" text-anchor="middle" stroke="#000" stroke-width="0.3" transform="translate(185.95,222.34) scale(0.88,1)">*</text>
<text x="0" y="0" font-family="'Liberation Serif', 'Times New Roman', serif" font-weight="bold" font-size="15.5" text-anchor="middle" stroke="#000" stroke-width="0.3" transform="translate(193.45,222.34) scale(0.88,1)">*</text>
<text x="0" y="0" font-family="'Liberation Serif', 'Times New Roman', serif" font-weight="bold" font-size="15.5" text-anchor="middle" stroke="#000" stroke-width="0.3" transform="translate(200.95,222.34) scale(0.88,1)">*</text>
<text x="142.10" y="270.70" font-family="'Liberation Serif', 'Times New Roman', serif" font-weight="bold" font-size="3.9" fill="#111" text-anchor="middle" stroke="#111" stroke-width="0.2">Ctrl</text>
<text x="172.10" y="270.70" font-family="'Liberation Serif', 'Times New Roman', serif" font-weight="bold" font-size="3.9" fill="#111" text-anchor="middle" stroke="#111" stroke-width="0.2">Diab</text>
<text x="202.40" y="270.70" font-family="'Liberation Serif', 'Times New Roman', serif" font-weight="bold" font-size="3.9" fill="#111" text-anchor="middle" stroke="#111" stroke-width="0.2">Diab + Ly6G</text>
<rect x="236.20" y="197.50" width="83.30" height="14.00" fill="#031d5f" stroke="#000d45" stroke-width="1.0"/>
<text x="277.85" y="209.11" font-family="'Liberation Serif', 'Times New Roman', serif" font-weight="bold" font-size="9.8" fill="#ffff00" text-anchor="middle" stroke="#ffff00" stroke-width="0.12">i) CCR2</text>
<text x="0" y="0" font-family="'Liberation Serif', 'Times New Roman', serif" font-weight="bold" font-size="8.4" text-anchor="middle" stroke="#000" stroke-width="0.3" transform="translate(226.35,241.90) rotate(-90)">Fold expression</text>
<line x1="252.60" y1="243.20" x2="252.60" y2="242.50" stroke="#7a7a7a" stroke-width="0.6"/>
<line x1="251.30" y1="242.50" x2="253.90" y2="242.50" stroke="#7a7a7a" stroke-width="0.7"/>
<rect x="247.30" y="243.50" width="10.60" height="24.50" fill="#93cddd" stroke="#5f98aa" stroke-width="0.6"/>
<line x1="280.60" y1="235.50" x2="280.60" y2="233.00" stroke="#7a7a7a" stroke-width="0.6"/>
<line x1="279.30" y1="233.00" x2="281.90" y2="233.00" stroke="#7a7a7a" stroke-width="0.7"/>
<rect x="275.30" y="235.80" width="10.60" height="32.20" fill="#fac190" stroke="#d99a66" stroke-width="0.6"/>
<line x1="308.35" y1="234.50" x2="308.35" y2="234.00" stroke="#7a7a7a" stroke-width="0.6"/>
<line x1="307.05" y1="234.00" x2="309.65" y2="234.00" stroke="#7a7a7a" stroke-width="0.7"/>
<rect x="302.80" y="234.80" width="11.10" height="33.20" fill="#b3a2c7" stroke="#8a77a5" stroke-width="0.6"/>
<line x1="243.40" y1="225.90" x2="243.40" y2="268.00" stroke="#9a9a9a" stroke-width="0.7"/>
<line x1="243.40" y1="268.00" x2="322.29" y2="268.00" stroke="#9a9a9a" stroke-width="0.7"/>
<line x1="242.20" y1="226.20" x2="243.40" y2="226.20" stroke="#9a9a9a" stroke-width="0.6"/>
<text x="240.10" y="227.83" font-family="'Liberation Serif', 'Times New Roman', serif" font-weight="bold" font-size="4.8" fill="#444" text-anchor="end" >1.5</text>
<line x1="242.20" y1="240.10" x2="243.40" y2="240.10" stroke="#9a9a9a" stroke-width="0.6"/>
<text x="240.10" y="241.73" font-family="'Liberation Serif', 'Times New Roman', serif" font-weight="bold" font-size="4.8" fill="#444" text-anchor="end" >1</text>
<line x1="242.20" y1="254.00" x2="243.40" y2="254.00" stroke="#9a9a9a" stroke-width="0.6"/>
<text x="240.10" y="255.63" font-family="'Liberation Serif', 'Times New Roman', serif" font-weight="bold" font-size="4.8" fill="#444" text-anchor="end" >0.5</text>
<line x1="242.20" y1="268.00" x2="243.40" y2="268.00" stroke="#9a9a9a" stroke-width="0.6"/>
<text x="240.10" y="269.63" font-family="'Liberation Serif', 'Times New Roman', serif" font-weight="bold" font-size="4.8" fill="#444" text-anchor="end" >0</text>
<line x1="266.54" y1="268.00" x2="266.54" y2="269.40" stroke="#9a9a9a" stroke-width="0.6"/>
<line x1="294.54" y1="268.00" x2="294.54" y2="269.40" stroke="#9a9a9a" stroke-width="0.6"/>
<line x1="322.29" y1="268.00" x2="322.29" y2="269.40" stroke="#9a9a9a" stroke-width="0.6"/>
<line x1="253.20" y1="227.50" x2="278.00" y2="227.50" stroke="#202020" stroke-width="1.4"/>
<text x="0" y="0" font-family="'Liberation Serif', 'Times New Roman', serif" font-weight="bold" font-size="15.5" text-anchor="middle" stroke="#000" stroke-width="0.3" transform="translate(265.60,230.04) scale(0.88,1)">*</text>
<text x="253.00" y="276.20" font-family="'Liberation Serif', 'Times New Roman', serif" font-weight="bold" font-size="4.95" fill="#111" text-anchor="middle" stroke="#111" stroke-width="0.2">Ctrl</text>
<text x="280.40" y="276.20" font-family="'Liberation Serif', 'Times New Roman', serif" font-weight="bold" font-size="4.95" fill="#111" text-anchor="middle" stroke="#111" stroke-width="0.2">Diab</text>
<text x="308.60" y="276.20" font-family="'Liberation Serif', 'Times New Roman', serif" font-weight="bold" font-size="4.95" fill="#111" text-anchor="middle" stroke="#111" stroke-width="0.2">Diab + Ly6G</text>
<rect x="338.50" y="198.80" width="83.00" height="13.70" fill="#031d5f" stroke="#000d45" stroke-width="1.0"/>
<text x="380.00" y="210.30" font-family="'Liberation Serif', 'Times New Roman', serif" font-weight="bold" font-size="9.9" fill="#ffff00" text-anchor="middle" stroke="#ffff00" stroke-width="0.12">j) CCR5</text>
<text x="0" y="0" font-family="'Liberation Serif', 'Times New Roman', serif" font-weight="bold" font-size="8.4" text-anchor="middle" stroke="#000" stroke-width="0.3" transform="translate(338.45,246.20) rotate(-90)">Fold expression</text>
<line x1="366.50" y1="256.20" x2="366.50" y2="254.20" stroke="#7a7a7a" stroke-width="0.6"/>
<line x1="365.20" y1="254.20" x2="367.80" y2="254.20" stroke="#7a7a7a" stroke-width="0.7"/>
<rect x="360.80" y="256.50" width="11.40" height="15.50" fill="#93cddd" stroke="#5f98aa" stroke-width="0.6"/>
<line x1="394.60" y1="241.20" x2="394.60" y2="232.00" stroke="#7a7a7a" stroke-width="0.6"/>
<line x1="393.30" y1="232.00" x2="395.90" y2="232.00" stroke="#7a7a7a" stroke-width="0.7"/>
<rect x="389.00" y="241.50" width="11.20" height="30.50" fill="#fac190" stroke="#d99a66" stroke-width="0.6"/>
<line x1="422.85" y1="258.00" x2="422.85" y2="250.70" stroke="#7a7a7a" stroke-width="0.6"/>
<line x1="421.55" y1="250.70" x2="424.15" y2="250.70" stroke="#7a7a7a" stroke-width="0.7"/>
<rect x="417.30" y="258.30" width="11.10" height="13.70" fill="#b3a2c7" stroke="#8a77a5" stroke-width="0.6"/>
<line x1="352.40" y1="228.90" x2="352.40" y2="272.00" stroke="#9a9a9a" stroke-width="0.7"/>
<line x1="352.40" y1="272.00" x2="436.94" y2="272.00" stroke="#9a9a9a" stroke-width="0.7"/>
<line x1="351.20" y1="229.20" x2="352.40" y2="229.20" stroke="#9a9a9a" stroke-width="0.6"/>
<text x="349.10" y="230.83" font-family="'Liberation Serif', 'Times New Roman', serif" font-weight="bold" font-size="4.8" fill="#444" text-anchor="end" >2.5</text>
<line x1="351.20" y1="237.80" x2="352.40" y2="237.80" stroke="#9a9a9a" stroke-width="0.6"/>
<text x="349.10" y="239.43" font-family="'Liberation Serif', 'Times New Roman', serif" font-weight="bold" font-size="4.8" fill="#444" text-anchor="end" >2</text>
<line x1="351.20" y1="246.40" x2="352.40" y2="246.40" stroke="#9a9a9a" stroke-width="0.6"/>
<text x="349.10" y="248.03" font-family="'Liberation Serif', 'Times New Roman', serif" font-weight="bold" font-size="4.8" fill="#444" text-anchor="end" >1.5</text>
<line x1="351.20" y1="255.00" x2="352.40" y2="255.00" stroke="#9a9a9a" stroke-width="0.6"/>
<text x="349.10" y="256.63" font-family="'Liberation Serif', 'Times New Roman', serif" font-weight="bold" font-size="4.8" fill="#444" text-anchor="end" >1</text>
<line x1="351.20" y1="263.50" x2="352.40" y2="263.50" stroke="#9a9a9a" stroke-width="0.6"/>
<text x="349.10" y="265.13" font-family="'Liberation Serif', 'Times New Roman', serif" font-weight="bold" font-size="4.8" fill="#444" text-anchor="end" >0.5</text>
<line x1="351.20" y1="272.00" x2="352.40" y2="272.00" stroke="#9a9a9a" stroke-width="0.6"/>
<text x="349.10" y="273.63" font-family="'Liberation Serif', 'Times New Roman', serif" font-weight="bold" font-size="4.8" fill="#444" text-anchor="end" >0</text>
<line x1="380.59" y1="272.00" x2="380.59" y2="273.40" stroke="#9a9a9a" stroke-width="0.6"/>
<line x1="408.69" y1="272.00" x2="408.69" y2="273.40" stroke="#9a9a9a" stroke-width="0.6"/>
<line x1="436.94" y1="272.00" x2="436.94" y2="273.40" stroke="#9a9a9a" stroke-width="0.6"/>
<line x1="367.00" y1="230.80" x2="390.70" y2="230.80" stroke="#202020" stroke-width="1.4"/>
<text x="0" y="0" font-family="'Liberation Serif', 'Times New Roman', serif" font-weight="bold" font-size="15.5" text-anchor="middle" stroke="#000" stroke-width="0.3" transform="translate(378.85,233.34) scale(0.88,1)">*</text>
<line x1="398.00" y1="230.80" x2="421.70" y2="230.80" stroke="#202020" stroke-width="1.4"/>
<text x="0" y="0" font-family="'Liberation Serif', 'Times New Roman', serif" font-weight="bold" font-size="15.5" text-anchor="middle" stroke="#000" stroke-width="0.3" transform="translate(409.85,233.34) scale(0.88,1)">*</text>
<text x="366.80" y="280.00" font-family="'Liberation Serif', 'Times New Roman', serif" font-weight="bold" font-size="5.0" fill="#111" text-anchor="middle" stroke="#111" stroke-width="0.2">Ctrl</text>
<text x="394.30" y="280.00" font-family="'Liberation Serif', 'Times New Roman', serif" font-weight="bold" font-size="5.0" fill="#111" text-anchor="middle" stroke="#111" stroke-width="0.2">Diab</text>
<text x="422.60" y="280.00" font-family="'Liberation Serif', 'Times New Roman', serif" font-weight="bold" font-size="5.0" fill="#111" text-anchor="middle" stroke="#111" stroke-width="0.2">Diab + Ly6G</text>
<rect x="19.50" y="302.50" width="83.00" height="13.80" fill="#031d5f" stroke="#000d45" stroke-width="1.0"/>
<text x="59.10" y="314.60" font-family="'Liberation Serif', 'Times New Roman', serif" font-weight="bold" font-size="10" fill="#ffff00" text-anchor="middle" stroke="#ffff00" stroke-width="0.12">k) Cts B</text>
<text x="0" y="0" font-family="'Liberation Serif', 'Times New Roman', serif" font-weight="bold" font-size="8.4" text-anchor="middle" stroke="#000" stroke-width="0.3" transform="translate(6.35,348.10) rotate(-90)">Fold expression</text>
<line x1="34.60" y1="349.50" x2="34.60" y2="347.50" stroke="#7a7a7a" stroke-width="0.6"/>
<line x1="33.30" y1="347.50" x2="35.90" y2="347.50" stroke="#7a7a7a" stroke-width="0.7"/>
<rect x="29.00" y="349.80" width="11.20" height="20.20" fill="#93cddd" stroke="#5f98aa" stroke-width="0.6"/>
<line x1="63.75" y1="340.00" x2="63.75" y2="333.20" stroke="#7a7a7a" stroke-width="0.6"/>
<line x1="62.45" y1="333.20" x2="65.05" y2="333.20" stroke="#7a7a7a" stroke-width="0.7"/>
<rect x="58.30" y="340.30" width="10.90" height="29.70" fill="#fac190" stroke="#d99a66" stroke-width="0.6"/>
<line x1="92.60" y1="352.50" x2="92.60" y2="347.00" stroke="#7a7a7a" stroke-width="0.6"/>
<line x1="91.30" y1="347.00" x2="93.90" y2="347.00" stroke="#7a7a7a" stroke-width="0.7"/>
<rect x="87.30" y="352.80" width="10.60" height="17.20" fill="#b3a2c7" stroke="#8a77a5" stroke-width="0.6"/>
<line x1="20.40" y1="328.40" x2="20.40" y2="370.00" stroke="#9a9a9a" stroke-width="0.7"/>
<line x1="20.40" y1="370.00" x2="107.10" y2="370.00" stroke="#9a9a9a" stroke-width="0.7"/>
<line x1="19.20" y1="328.70" x2="20.40" y2="328.70" stroke="#9a9a9a" stroke-width="0.6"/>
<text x="17.10" y="330.33" font-family="'Liberation Serif', 'Times New Roman', serif" font-weight="bold" font-size="4.8" fill="#444" text-anchor="end" >2</text>
<line x1="19.20" y1="349.40" x2="20.40" y2="349.40" stroke="#9a9a9a" stroke-width="0.6"/>
<text x="17.10" y="351.03" font-family="'Liberation Serif', 'Times New Roman', serif" font-weight="bold" font-size="4.8" fill="#444" text-anchor="end" >1</text>
<line x1="19.20" y1="370.00" x2="20.40" y2="370.00" stroke="#9a9a9a" stroke-width="0.6"/>
<text x="17.10" y="371.63" font-family="'Liberation Serif', 'Times New Roman', serif" font-weight="bold" font-size="4.8" fill="#444" text-anchor="end" >0</text>
<line x1="49.10" y1="370.00" x2="49.10" y2="371.40" stroke="#9a9a9a" stroke-width="0.6"/>
<line x1="78.25" y1="370.00" x2="78.25" y2="371.40" stroke="#9a9a9a" stroke-width="0.6"/>
<line x1="107.10" y1="370.00" x2="107.10" y2="371.40" stroke="#9a9a9a" stroke-width="0.6"/>
<line x1="36.20" y1="331.70" x2="60.00" y2="331.70" stroke="#202020" stroke-width="1.4"/>
<text x="0" y="0" font-family="'Liberation Serif', 'Times New Roman', serif" font-weight="bold" font-size="15.5" text-anchor="middle" stroke="#000" stroke-width="0.3" transform="translate(48.10,334.24) scale(0.88,1)">*</text>
<line x1="67.50" y1="331.70" x2="90.70" y2="331.70" stroke="#202020" stroke-width="1.4"/>
<text x="0" y="0" font-family="'Liberation Serif', 'Times New Roman', serif" font-weight="bold" font-size="15.5" text-anchor="middle" stroke="#000" stroke-width="0.3" transform="translate(79.10,334.24) scale(0.88,1)">*</text>
<text x="34.70" y="377.60" font-family="'Liberation Serif', 'Times New Roman', serif" font-weight="bold" font-size="4.95" fill="#111" text-anchor="middle" stroke="#111" stroke-width="0.2">Ctrl</text>
<text x="63.40" y="377.60" font-family="'Liberation Serif', 'Times New Roman', serif" font-weight="bold" font-size="4.95" fill="#111" text-anchor="middle" stroke="#111" stroke-width="0.2">Diab</text>
<text x="92.50" y="377.60" font-family="'Liberation Serif', 'Times New Roman', serif" font-weight="bold" font-size="4.95" fill="#111" text-anchor="middle" stroke="#111" stroke-width="0.2">Diab + Ly6G</text>
<rect x="138.50" y="302.50" width="83.00" height="13.20" fill="#031d5f" stroke="#000d45" stroke-width="1.0"/>
<text x="180.00" y="313.85" font-family="'Liberation Serif', 'Times New Roman', serif" font-weight="bold" font-size="10.1" fill="#ffff00" text-anchor="middle" stroke="#ffff00" stroke-width="0.12">l) Cts L</text>
<text x="0" y="0" font-family="'Liberation Serif', 'Times New Roman', serif" font-weight="bold" font-size="8.4" text-anchor="middle" stroke="#000" stroke-width="0.3" transform="translate(130.35,342.50) rotate(-90)">Fold expression</text>
<line x1="156.85" y1="350.50" x2="156.85" y2="350.00" stroke="#7a7a7a" stroke-width="0.6"/>
<line x1="155.55" y1="350.00" x2="158.15" y2="350.00" stroke="#7a7a7a" stroke-width="0.7"/>
<rect x="151.50" y="350.80" width="10.70" height="20.40" fill="#93cddd" stroke="#5f98aa" stroke-width="0.6"/>
<line x1="185.85" y1="338.70" x2="185.85" y2="330.00" stroke="#7a7a7a" stroke-width="0.6"/>
<line x1="184.55" y1="330.00" x2="187.15" y2="330.00" stroke="#7a7a7a" stroke-width="0.7"/>
<rect x="180.30" y="339.00" width="11.10" height="32.20" fill="#fac190" stroke="#d99a66" stroke-width="0.6"/>
<line x1="215.10" y1="358.20" x2="215.10" y2="354.50" stroke="#7a7a7a" stroke-width="0.6"/>
<line x1="213.80" y1="354.50" x2="216.40" y2="354.50" stroke="#7a7a7a" stroke-width="0.7"/>
<rect x="209.80" y="358.50" width="10.60" height="12.70" fill="#b3a2c7" stroke="#8a77a5" stroke-width="0.6"/>
<line x1="142.90" y1="327.70" x2="142.90" y2="371.20" stroke="#9a9a9a" stroke-width="0.7"/>
<line x1="142.90" y1="371.20" x2="229.66" y2="371.20" stroke="#9a9a9a" stroke-width="0.7"/>
<line x1="141.70" y1="328.00" x2="142.90" y2="328.00" stroke="#9a9a9a" stroke-width="0.6"/>
<text x="139.60" y="329.63" font-family="'Liberation Serif', 'Times New Roman', serif" font-weight="bold" font-size="4.8" fill="#444" text-anchor="end" >2</text>
<line x1="141.70" y1="349.60" x2="142.90" y2="349.60" stroke="#9a9a9a" stroke-width="0.6"/>
<text x="139.60" y="351.23" font-family="'Liberation Serif', 'Times New Roman', serif" font-weight="bold" font-size="4.8" fill="#444" text-anchor="end" >1</text>
<line x1="141.70" y1="371.20" x2="142.90" y2="371.20" stroke="#9a9a9a" stroke-width="0.6"/>
<text x="139.60" y="372.83" font-family="'Liberation Serif', 'Times New Roman', serif" font-weight="bold" font-size="4.8" fill="#444" text-anchor="end" >0</text>
<line x1="171.41" y1="371.20" x2="171.41" y2="372.60" stroke="#9a9a9a" stroke-width="0.6"/>
<line x1="200.41" y1="371.20" x2="200.41" y2="372.60" stroke="#9a9a9a" stroke-width="0.6"/>
<line x1="229.66" y1="371.20" x2="229.66" y2="372.60" stroke="#9a9a9a" stroke-width="0.6"/>
<line x1="157.50" y1="327.50" x2="181.20" y2="327.50" stroke="#202020" stroke-width="1.4"/>
<text x="0" y="0" font-family="'Liberation Serif', 'Times New Roman', serif" font-weight="bold" font-size="15.5" text-anchor="middle" stroke="#000" stroke-width="0.3" transform="translate(169.35,330.04) scale(0.88,1)">*</text>
<line x1="189.50" y1="327.50" x2="213.00" y2="327.50" stroke="#202020" stroke-width="1.4"/>
<text x="0" y="0" font-family="'Liberation Serif', 'Times New Roman', serif" font-weight="bold" font-size="15.5" text-anchor="middle" stroke="#000" stroke-width="0.3" transform="translate(197.50,330.04) scale(0.88,1)">*</text>
<text x="0" y="0" font-family="'Liberation Serif', 'Times New Roman', serif" font-weight="bold" font-size="15.5" text-anchor="middle" stroke="#000" stroke-width="0.3" transform="translate(205.00,330.04) scale(0.88,1)">*</text>
<text x="157.00" y="378.50" font-family="'Liberation Serif', 'Times New Roman', serif" font-weight="bold" font-size="4.85" fill="#111" text-anchor="middle" stroke="#111" stroke-width="0.2">Ctrl</text>
<text x="186.00" y="378.50" font-family="'Liberation Serif', 'Times New Roman', serif" font-weight="bold" font-size="4.85" fill="#111" text-anchor="middle" stroke="#111" stroke-width="0.2">Diab</text>
<text x="214.80" y="378.50" font-family="'Liberation Serif', 'Times New Roman', serif" font-weight="bold" font-size="4.85" fill="#111" text-anchor="middle" stroke="#111" stroke-width="0.2">Diab + Ly6G</text>
<rect x="248.00" y="301.70" width="83.00" height="13.50" fill="#031d5f" stroke="#000d45" stroke-width="1.0"/>
<text x="290.80" y="313.15" font-family="'Liberation Serif', 'Times New Roman', serif" font-weight="bold" font-size="10" fill="#ffff00" text-anchor="middle" stroke="#ffff00" stroke-width="0.12">m) MMP2</text>
<text x="0" y="0" font-family="'Liberation Serif', 'Times New Roman', serif" font-weight="bold" font-size="8.4" text-anchor="middle" stroke="#000" stroke-width="0.3" transform="translate(241.35,346.20) rotate(-90)">Fold expression</text>
<line x1="264.00" y1="361.20" x2="264.00" y2="357.50" stroke="#7a7a7a" stroke-width="0.6"/>
<line x1="262.70" y1="357.50" x2="265.30" y2="357.50" stroke="#7a7a7a" stroke-width="0.7"/>
<rect x="258.30" y="361.50" width="11.40" height="11.00" fill="#93cddd" stroke="#5f98aa" stroke-width="0.6"/>
<line x1="294.00" y1="341.20" x2="294.00" y2="330.00" stroke="#7a7a7a" stroke-width="0.6"/>
<line x1="292.70" y1="330.00" x2="295.30" y2="330.00" stroke="#7a7a7a" stroke-width="0.7"/>
<rect x="288.30" y="341.50" width="11.40" height="31.00" fill="#fac190" stroke="#d99a66" stroke-width="0.6"/>
<line x1="324.00" y1="365.70" x2="324.00" y2="363.70" stroke="#7a7a7a" stroke-width="0.6"/>
<line x1="322.70" y1="363.70" x2="325.30" y2="363.70" stroke="#7a7a7a" stroke-width="0.7"/>
<rect x="318.30" y="366.00" width="11.40" height="6.50" fill="#b3a2c7" stroke="#8a77a5" stroke-width="0.6"/>
<line x1="250.40" y1="325.90" x2="250.40" y2="372.50" stroke="#9a9a9a" stroke-width="0.7"/>
<line x1="250.40" y1="372.50" x2="339.00" y2="372.50" stroke="#9a9a9a" stroke-width="0.7"/>
<line x1="249.20" y1="326.20" x2="250.40" y2="326.20" stroke="#9a9a9a" stroke-width="0.6"/>
<text x="247.10" y="327.83" font-family="'Liberation Serif', 'Times New Roman', serif" font-weight="bold" font-size="4.8" fill="#444" text-anchor="end" >4</text>
<line x1="249.20" y1="349.40" x2="250.40" y2="349.40" stroke="#9a9a9a" stroke-width="0.6"/>
<text x="247.10" y="351.03" font-family="'Liberation Serif', 'Times New Roman', serif" font-weight="bold" font-size="4.8" fill="#444" text-anchor="end" >2</text>
<line x1="249.20" y1="372.50" x2="250.40" y2="372.50" stroke="#9a9a9a" stroke-width="0.6"/>
<text x="247.10" y="374.13" font-family="'Liberation Serif', 'Times New Roman', serif" font-weight="bold" font-size="4.8" fill="#444" text-anchor="end" >0</text>
<line x1="279.00" y1="372.50" x2="279.00" y2="373.90" stroke="#9a9a9a" stroke-width="0.6"/>
<line x1="309.00" y1="372.50" x2="309.00" y2="373.90" stroke="#9a9a9a" stroke-width="0.6"/>
<line x1="339.00" y1="372.50" x2="339.00" y2="373.90" stroke="#9a9a9a" stroke-width="0.6"/>
<line x1="265.40" y1="327.00" x2="288.90" y2="327.00" stroke="#202020" stroke-width="1.4"/>
<text x="0" y="0" font-family="'Liberation Serif', 'Times New Roman', serif" font-weight="bold" font-size="15.5" text-anchor="middle" stroke="#000" stroke-width="0.3" transform="translate(274.40,329.54) scale(0.88,1)">*</text>
<text x="0" y="0" font-family="'Liberation Serif', 'Times New Roman', serif" font-weight="bold" font-size="15.5" text-anchor="middle" stroke="#000" stroke-width="0.3" transform="translate(281.90,329.54) scale(0.88,1)">*</text>
<line x1="298.20" y1="327.00" x2="322.00" y2="327.00" stroke="#202020" stroke-width="1.4"/>
<text x="0" y="0" font-family="'Liberation Serif', 'Times New Roman', serif" font-weight="bold" font-size="15.5" text-anchor="middle" stroke="#000" stroke-width="0.3" transform="translate(299.50,329.54) scale(0.88,1)">*</text>
<text x="0" y="0" font-family="'Liberation Serif', 'Times New Roman', serif" font-weight="bold" font-size="15.5" text-anchor="middle" stroke="#000" stroke-width="0.3" transform="translate(307.00,329.54) scale(0.88,1)">*</text>
<text x="0" y="0" font-family="'Liberation Serif', 'Times New Roman', serif" font-weight="bold" font-size="15.5" text-anchor="middle" stroke="#000" stroke-width="0.3" transform="translate(314.50,329.54) scale(0.88,1)">*</text>
<text x="0" y="0" font-family="'Liberation Serif', 'Times New Roman', serif" font-weight="bold" font-size="15.5" text-anchor="middle" stroke="#000" stroke-width="0.3" transform="translate(322.00,329.54) scale(0.88,1)">*</text>
<text x="263.90" y="378.80" font-family="'Liberation Serif', 'Times New Roman', serif" font-weight="bold" font-size="4.5" fill="#111" text-anchor="middle" stroke="#111" stroke-width="0.2">Ctrl</text>
<text x="293.70" y="378.80" font-family="'Liberation Serif', 'Times New Roman', serif" font-weight="bold" font-size="4.5" fill="#111" text-anchor="middle" stroke="#111" stroke-width="0.2">Diab</text>
<text x="324.20" y="378.80" font-family="'Liberation Serif', 'Times New Roman', serif" font-weight="bold" font-size="4.5" fill="#111" text-anchor="middle" stroke="#111" stroke-width="0.2">Diab + Ly6G</text>
<rect x="20.50" y="384.70" width="82.70" height="14.00" fill="#031d5f" stroke="#000d45" stroke-width="1.0"/>
<text x="61.85" y="397.25" font-family="'Liberation Serif', 'Times New Roman', serif" font-weight="bold" font-size="10.1" fill="#ffff00" text-anchor="middle" stroke="#ffff00" stroke-width="0.12">n) MMP9</text>
<text x="0" y="0" font-family="'Liberation Serif', 'Times New Roman', serif" font-weight="bold" font-size="8.4" text-anchor="middle" stroke="#000" stroke-width="0.3" transform="translate(13.85,428.70) rotate(-90)">Fold expression</text>
<line x1="37.10" y1="442.50" x2="37.10" y2="439.50" stroke="#7a7a7a" stroke-width="0.6"/>
<line x1="35.80" y1="439.50" x2="38.40" y2="439.50" stroke="#7a7a7a" stroke-width="0.7"/>
<rect x="31.50" y="442.80" width="11.20" height="11.40" fill="#93cddd" stroke="#5f98aa" stroke-width="0.6"/>
<line x1="66.10" y1="422.30" x2="66.10" y2="411.20" stroke="#7a7a7a" stroke-width="0.6"/>
<line x1="64.80" y1="411.20" x2="67.40" y2="411.20" stroke="#7a7a7a" stroke-width="0.7"/>
<rect x="60.60" y="422.60" width="11.00" height="31.60" fill="#fac190" stroke="#d99a66" stroke-width="0.6"/>
<line x1="95.70" y1="447.40" x2="95.70" y2="445.00" stroke="#7a7a7a" stroke-width="0.6"/>
<line x1="94.40" y1="445.00" x2="97.00" y2="445.00" stroke="#7a7a7a" stroke-width="0.7"/>
<rect x="90.00" y="447.70" width="11.40" height="6.50" fill="#b3a2c7" stroke="#8a77a5" stroke-width="0.6"/>
<line x1="22.40" y1="406.70" x2="22.40" y2="454.20" stroke="#9a9a9a" stroke-width="0.7"/>
<line x1="22.40" y1="454.20" x2="110.35" y2="454.20" stroke="#9a9a9a" stroke-width="0.7"/>
<line x1="21.20" y1="407.00" x2="22.40" y2="407.00" stroke="#9a9a9a" stroke-width="0.6"/>
<text x="19.10" y="408.63" font-family="'Liberation Serif', 'Times New Roman', serif" font-weight="bold" font-size="4.8" fill="#444" text-anchor="end" >4</text>
<line x1="21.20" y1="430.60" x2="22.40" y2="430.60" stroke="#9a9a9a" stroke-width="0.6"/>
<text x="19.10" y="432.23" font-family="'Liberation Serif', 'Times New Roman', serif" font-weight="bold" font-size="4.8" fill="#444" text-anchor="end" >2</text>
<line x1="21.20" y1="454.20" x2="22.40" y2="454.20" stroke="#9a9a9a" stroke-width="0.6"/>
<text x="19.10" y="455.83" font-family="'Liberation Serif', 'Times New Roman', serif" font-weight="bold" font-size="4.8" fill="#444" text-anchor="end" >0</text>
<line x1="51.75" y1="454.20" x2="51.75" y2="455.60" stroke="#9a9a9a" stroke-width="0.6"/>
<line x1="80.75" y1="454.20" x2="80.75" y2="455.60" stroke="#9a9a9a" stroke-width="0.6"/>
<line x1="110.35" y1="454.20" x2="110.35" y2="455.60" stroke="#9a9a9a" stroke-width="0.6"/>
<line x1="38.70" y1="409.50" x2="62.50" y2="409.50" stroke="#202020" stroke-width="1.4"/>
<text x="0" y="0" font-family="'Liberation Serif', 'Times New Roman', serif" font-weight="bold" font-size="15.5" text-anchor="middle" stroke="#000" stroke-width="0.3" transform="translate(47.40,412.04) scale(0.88,1)">*</text>
<text x="0" y="0" font-family="'Liberation Serif', 'Times New Roman', serif" font-weight="bold" font-size="15.5" text-anchor="middle" stroke="#000" stroke-width="0.3" transform="translate(54.90,412.04) scale(0.88,1)">*</text>
<line x1="69.50" y1="409.50" x2="93.70" y2="409.50" stroke="#202020" stroke-width="1.4"/>
<text x="0" y="0" font-family="'Liberation Serif', 'Times New Roman', serif" font-weight="bold" font-size="15.5" text-anchor="middle" stroke="#000" stroke-width="0.3" transform="translate(72.75,412.04) scale(0.88,1)">*</text>
<text x="0" y="0" font-family="'Liberation Serif', 'Times New Roman', serif" font-weight="bold" font-size="15.5" text-anchor="middle" stroke="#000" stroke-width="0.3" transform="translate(80.25,412.04) scale(0.88,1)">*</text>
<text x="0" y="0" font-family="'Liberation Serif', 'Times New Roman', serif" font-weight="bold" font-size="15.5" text-anchor="middle" stroke="#000" stroke-width="0.3" transform="translate(87.75,412.04) scale(0.88,1)">*</text>
<text x="0" y="0" font-family="'Liberation Serif', 'Times New Roman', serif" font-weight="bold" font-size="15.5" text-anchor="middle" stroke="#000" stroke-width="0.3" transform="translate(95.25,412.04) scale(0.88,1)">*</text>
<text x="36.90" y="460.00" font-family="'Liberation Serif', 'Times New Roman', serif" font-weight="bold" font-size="4.75" fill="#111" text-anchor="middle" stroke="#111" stroke-width="0.2">Ctrl</text>
<text x="66.40" y="460.00" font-family="'Liberation Serif', 'Times New Roman', serif" font-weight="bold" font-size="4.75" fill="#111" text-anchor="middle" stroke="#111" stroke-width="0.2">Diab</text>
<text x="95.50" y="460.00" font-family="'Liberation Serif', 'Times New Roman', serif" font-weight="bold" font-size="4.75" fill="#111" text-anchor="middle" stroke="#111" stroke-width="0.2">Diab + Ly6G</text>
<rect x="138.70" y="384.70" width="82.80" height="14.00" fill="#031d5f" stroke="#000d45" stroke-width="1.0"/>
<text x="179.60" y="397.00" font-family="'Liberation Serif', 'Times New Roman', serif" font-weight="bold" font-size="10" fill="#ffff00" text-anchor="middle" stroke="#ffff00" stroke-width="0.12">o) MMP12</text>
<text x="0" y="0" font-family="'Liberation Serif', 'Times New Roman', serif" font-weight="bold" font-size="8.4" text-anchor="middle" stroke="#000" stroke-width="0.3" transform="translate(126.35,432.50) rotate(-90)">Fold expression</text>
<line x1="152.10" y1="444.50" x2="152.10" y2="440.50" stroke="#7a7a7a" stroke-width="0.6"/>
<line x1="150.80" y1="440.50" x2="153.40" y2="440.50" stroke="#7a7a7a" stroke-width="0.7"/>
<rect x="146.50" y="444.80" width="11.20" height="10.20" fill="#93cddd" stroke="#5f98aa" stroke-width="0.6"/>
<line x1="181.00" y1="429.20" x2="181.00" y2="422.00" stroke="#7a7a7a" stroke-width="0.6"/>
<line x1="179.70" y1="422.00" x2="182.30" y2="422.00" stroke="#7a7a7a" stroke-width="0.7"/>
<rect x="175.30" y="429.50" width="11.40" height="25.50" fill="#fac190" stroke="#d99a66" stroke-width="0.6"/>
<line x1="210.10" y1="445.70" x2="210.10" y2="442.00" stroke="#7a7a7a" stroke-width="0.6"/>
<line x1="208.80" y1="442.00" x2="211.40" y2="442.00" stroke="#7a7a7a" stroke-width="0.7"/>
<rect x="204.80" y="446.00" width="10.60" height="9.00" fill="#b3a2c7" stroke="#8a77a5" stroke-width="0.6"/>
<line x1="137.40" y1="411.70" x2="137.40" y2="455.00" stroke="#9a9a9a" stroke-width="0.7"/>
<line x1="137.40" y1="455.00" x2="224.60" y2="455.00" stroke="#9a9a9a" stroke-width="0.7"/>
<line x1="136.20" y1="412.00" x2="137.40" y2="412.00" stroke="#9a9a9a" stroke-width="0.6"/>
<text x="134.10" y="413.63" font-family="'Liberation Serif', 'Times New Roman', serif" font-weight="bold" font-size="4.8" fill="#444" text-anchor="end" >2</text>
<line x1="136.20" y1="433.50" x2="137.40" y2="433.50" stroke="#9a9a9a" stroke-width="0.6"/>
<text x="134.10" y="435.13" font-family="'Liberation Serif', 'Times New Roman', serif" font-weight="bold" font-size="4.8" fill="#444" text-anchor="end" >1</text>
<line x1="136.20" y1="455.00" x2="137.40" y2="455.00" stroke="#9a9a9a" stroke-width="0.6"/>
<text x="134.10" y="456.63" font-family="'Liberation Serif', 'Times New Roman', serif" font-weight="bold" font-size="4.8" fill="#444" text-anchor="end" >0</text>
<line x1="166.60" y1="455.00" x2="166.60" y2="456.40" stroke="#9a9a9a" stroke-width="0.6"/>
<line x1="195.50" y1="455.00" x2="195.50" y2="456.40" stroke="#9a9a9a" stroke-width="0.6"/>
<line x1="224.60" y1="455.00" x2="224.60" y2="456.40" stroke="#9a9a9a" stroke-width="0.6"/>
<line x1="153.70" y1="422.00" x2="177.50" y2="422.00" stroke="#202020" stroke-width="1.4"/>
<text x="0" y="0" font-family="'Liberation Serif', 'Times New Roman', serif" font-weight="bold" font-size="15.5" text-anchor="middle" stroke="#000" stroke-width="0.3" transform="translate(165.60,424.54) scale(0.88,1)">*</text>
<line x1="184.50" y1="422.00" x2="208.20" y2="422.00" stroke="#202020" stroke-width="1.4"/>
<text x="0" y="0" font-family="'Liberation Serif', 'Times New Roman', serif" font-weight="bold" font-size="15.5" text-anchor="middle" stroke="#000" stroke-width="0.3" transform="translate(193.70,424.54) scale(0.88,1)">*</text>
<text x="0" y="0" font-family="'Liberation Serif', 'Times New Roman', serif" font-weight="bold" font-size="15.5" text-anchor="middle" stroke="#000" stroke-width="0.3" transform="translate(201.20,424.54) scale(0.88,1)">*</text>
<text x="152.30" y="462.50" font-family="'Liberation Serif', 'Times New Roman', serif" font-weight="bold" font-size="4.9" fill="#111" text-anchor="middle" stroke="#111" stroke-width="0.2">Ctrl</text>
<text x="181.00" y="462.50" font-family="'Liberation Serif', 'Times New Roman', serif" font-weight="bold" font-size="4.9" fill="#111" text-anchor="middle" stroke="#111" stroke-width="0.2">Diab</text>
<text x="210.00" y="462.50" font-family="'Liberation Serif', 'Times New Roman', serif" font-weight="bold" font-size="4.9" fill="#111" text-anchor="middle" stroke="#111" stroke-width="0.2">Diab + Ly6G</text>
<rect x="31.30" y="503.10" width="83.20" height="14.00" fill="#031d5f" stroke="#000d45" stroke-width="1.0"/>
<text x="69.20" y="514.66" font-family="'Liberation Serif', 'Times New Roman', serif" font-weight="bold" font-size="9.7" fill="#ffff00" text-anchor="middle" stroke="#ffff00" stroke-width="0.12">p) ICAM1</text>
<text x="0" y="0" font-family="'Liberation Serif', 'Times New Roman', serif" font-weight="bold" font-size="8.4" text-anchor="middle" stroke="#000" stroke-width="0.3" transform="translate(18.85,548.10) rotate(-90)">Fold expression</text>
<line x1="45.85" y1="558.00" x2="45.85" y2="553.20" stroke="#7a7a7a" stroke-width="0.6"/>
<line x1="44.55" y1="553.20" x2="47.15" y2="553.20" stroke="#7a7a7a" stroke-width="0.7"/>
<rect x="40.30" y="558.30" width="11.10" height="12.50" fill="#93cddd" stroke="#5f98aa" stroke-width="0.6"/>
<line x1="74.10" y1="544.20" x2="74.10" y2="537.50" stroke="#7a7a7a" stroke-width="0.6"/>
<line x1="72.80" y1="537.50" x2="75.40" y2="537.50" stroke="#7a7a7a" stroke-width="0.7"/>
<rect x="68.50" y="544.50" width="11.20" height="26.30" fill="#fac190" stroke="#d99a66" stroke-width="0.6"/>
<line x1="101.85" y1="556.20" x2="101.85" y2="553.20" stroke="#7a7a7a" stroke-width="0.6"/>
<line x1="100.55" y1="553.20" x2="103.15" y2="553.20" stroke="#7a7a7a" stroke-width="0.7"/>
<rect x="96.50" y="556.50" width="10.70" height="14.30" fill="#b3a2c7" stroke="#8a77a5" stroke-width="0.6"/>
<line x1="32.00" y1="527.90" x2="32.00" y2="570.80" stroke="#9a9a9a" stroke-width="0.7"/>
<line x1="32.00" y1="570.80" x2="115.85" y2="570.80" stroke="#9a9a9a" stroke-width="0.7"/>
<line x1="30.80" y1="528.20" x2="32.00" y2="528.20" stroke="#9a9a9a" stroke-width="0.6"/>
<text x="28.70" y="529.83" font-family="'Liberation Serif', 'Times New Roman', serif" font-weight="bold" font-size="4.8" fill="#444" text-anchor="end" >2.5</text>
<line x1="30.80" y1="536.80" x2="32.00" y2="536.80" stroke="#9a9a9a" stroke-width="0.6"/>
<text x="28.70" y="538.43" font-family="'Liberation Serif', 'Times New Roman', serif" font-weight="bold" font-size="4.8" fill="#444" text-anchor="end" >2</text>
<line x1="30.80" y1="545.40" x2="32.00" y2="545.40" stroke="#9a9a9a" stroke-width="0.6"/>
<text x="28.70" y="547.03" font-family="'Liberation Serif', 'Times New Roman', serif" font-weight="bold" font-size="4.8" fill="#444" text-anchor="end" >1.5</text>
<line x1="30.80" y1="554.00" x2="32.00" y2="554.00" stroke="#9a9a9a" stroke-width="0.6"/>
<text x="28.70" y="555.63" font-family="'Liberation Serif', 'Times New Roman', serif" font-weight="bold" font-size="4.8" fill="#444" text-anchor="end" >1</text>
<line x1="30.80" y1="562.60" x2="32.00" y2="562.60" stroke="#9a9a9a" stroke-width="0.6"/>
<text x="28.70" y="564.23" font-family="'Liberation Serif', 'Times New Roman', serif" font-weight="bold" font-size="4.8" fill="#444" text-anchor="end" >0.5</text>
<line x1="30.80" y1="571.20" x2="32.00" y2="571.20" stroke="#9a9a9a" stroke-width="0.6"/>
<text x="28.70" y="572.83" font-family="'Liberation Serif', 'Times New Roman', serif" font-weight="bold" font-size="4.8" fill="#444" text-anchor="end" >0</text>
<line x1="59.85" y1="570.80" x2="59.85" y2="572.20" stroke="#9a9a9a" stroke-width="0.6"/>
<line x1="88.10" y1="570.80" x2="88.10" y2="572.20" stroke="#9a9a9a" stroke-width="0.6"/>
<line x1="115.85" y1="570.80" x2="115.85" y2="572.20" stroke="#9a9a9a" stroke-width="0.6"/>
<line x1="45.70" y1="536.20" x2="69.50" y2="536.20" stroke="#202020" stroke-width="1.4"/>
<text x="0" y="0" font-family="'Liberation Serif', 'Times New Roman', serif" font-weight="bold" font-size="15.5" text-anchor="middle" stroke="#000" stroke-width="0.3" transform="translate(58.00,538.74) scale(0.88,1)">*</text>
<line x1="76.20" y1="536.20" x2="100.70" y2="536.20" stroke="#202020" stroke-width="1.4"/>
<text x="0" y="0" font-family="'Liberation Serif', 'Times New Roman', serif" font-weight="bold" font-size="15.5" text-anchor="middle" stroke="#000" stroke-width="0.3" transform="translate(89.95,538.74) scale(0.88,1)">*</text>
<text x="46.10" y="578.50" font-family="'Liberation Serif', 'Times New Roman', serif" font-weight="bold" font-size="5.0" fill="#111" text-anchor="middle" stroke="#111" stroke-width="0.2">Ctrl</text>
<text x="74.10" y="578.50" font-family="'Liberation Serif', 'Times New Roman', serif" font-weight="bold" font-size="5.0" fill="#111" text-anchor="middle" stroke="#111" stroke-width="0.2">Diab</text>
<text x="101.80" y="578.50" font-family="'Liberation Serif', 'Times New Roman', serif" font-weight="bold" font-size="5.0" fill="#111" text-anchor="middle" stroke="#111" stroke-width="0.2">Diab + Ly6G</text>
<rect x="137.50" y="501.70" width="82.70" height="14.00" fill="#031d5f" stroke="#000d45" stroke-width="1.0"/>
<text x="178.85" y="513.31" font-family="'Liberation Serif', 'Times New Roman', serif" font-weight="bold" font-size="9.8" fill="#ffff00" text-anchor="middle" stroke="#ffff00" stroke-width="0.12">q) VCAM1</text>
<text x="0" y="0" font-family="'Liberation Serif', 'Times New Roman', serif" font-weight="bold" font-size="8.4" text-anchor="middle" stroke="#000" stroke-width="0.3" transform="translate(137.55,548.70) rotate(-90)">Fold expression</text>
<line x1="162.10" y1="550.50" x2="162.10" y2="547.50" stroke="#7a7a7a" stroke-width="0.6"/>
<line x1="160.80" y1="547.50" x2="163.40" y2="547.50" stroke="#7a7a7a" stroke-width="0.7"/>
<rect x="156.50" y="550.80" width="11.20" height="19.70" fill="#93cddd" stroke="#5f98aa" stroke-width="0.6"/>
<line x1="191.85" y1="540.00" x2="191.85" y2="532.50" stroke="#7a7a7a" stroke-width="0.6"/>
<line x1="190.55" y1="532.50" x2="193.15" y2="532.50" stroke="#7a7a7a" stroke-width="0.7"/>
<rect x="186.50" y="540.30" width="10.70" height="30.20" fill="#fac190" stroke="#d99a66" stroke-width="0.6"/>
<line x1="220.35" y1="551.20" x2="220.35" y2="546.20" stroke="#7a7a7a" stroke-width="0.6"/>
<line x1="219.05" y1="546.20" x2="221.65" y2="546.20" stroke="#7a7a7a" stroke-width="0.7"/>
<rect x="214.80" y="551.50" width="11.10" height="19.00" fill="#b3a2c7" stroke="#8a77a5" stroke-width="0.6"/>
<line x1="147.40" y1="529.70" x2="147.40" y2="570.50" stroke="#9a9a9a" stroke-width="0.7"/>
<line x1="147.40" y1="570.50" x2="234.91" y2="570.50" stroke="#9a9a9a" stroke-width="0.7"/>
<line x1="146.20" y1="530.00" x2="147.40" y2="530.00" stroke="#9a9a9a" stroke-width="0.6"/>
<text x="144.10" y="531.63" font-family="'Liberation Serif', 'Times New Roman', serif" font-weight="bold" font-size="4.8" fill="#444" text-anchor="end" >2</text>
<line x1="146.20" y1="550.20" x2="147.40" y2="550.20" stroke="#9a9a9a" stroke-width="0.6"/>
<text x="144.10" y="551.83" font-family="'Liberation Serif', 'Times New Roman', serif" font-weight="bold" font-size="4.8" fill="#444" text-anchor="end" >1</text>
<line x1="146.20" y1="570.50" x2="147.40" y2="570.50" stroke="#9a9a9a" stroke-width="0.6"/>
<text x="144.10" y="572.13" font-family="'Liberation Serif', 'Times New Roman', serif" font-weight="bold" font-size="4.8" fill="#444" text-anchor="end" >0</text>
<line x1="176.66" y1="570.50" x2="176.66" y2="571.90" stroke="#9a9a9a" stroke-width="0.6"/>
<line x1="206.41" y1="570.50" x2="206.41" y2="571.90" stroke="#9a9a9a" stroke-width="0.6"/>
<line x1="234.91" y1="570.50" x2="234.91" y2="571.90" stroke="#9a9a9a" stroke-width="0.6"/>
<line x1="161.20" y1="530.50" x2="185.00" y2="530.50" stroke="#202020" stroke-width="1.4"/>
<text x="0" y="0" font-family="'Liberation Serif', 'Times New Roman', serif" font-weight="bold" font-size="15.5" text-anchor="middle" stroke="#000" stroke-width="0.3" transform="translate(173.10,533.04) scale(0.88,1)">*</text>
<line x1="195.70" y1="530.50" x2="219.50" y2="530.50" stroke="#202020" stroke-width="1.4"/>
<text x="0" y="0" font-family="'Liberation Serif', 'Times New Roman', serif" font-weight="bold" font-size="15.5" text-anchor="middle" stroke="#000" stroke-width="0.3" transform="translate(207.60,533.04) scale(0.88,1)">*</text>
<text x="162.00" y="579.00" font-family="'Liberation Serif', 'Times New Roman', serif" font-weight="bold" font-size="4.85" fill="#111" text-anchor="middle" stroke="#111" stroke-width="0.2">Ctrl</text>
<text x="191.20" y="579.00" font-family="'Liberation Serif', 'Times New Roman', serif" font-weight="bold" font-size="4.85" fill="#111" text-anchor="middle" stroke="#111" stroke-width="0.2">Diab</text>
<text x="220.20" y="579.00" font-family="'Liberation Serif', 'Times New Roman', serif" font-weight="bold" font-size="4.85" fill="#111" text-anchor="middle" stroke="#111" stroke-width="0.2">Diab + Ly6G</text>
<text x="0" y="0" font-family="'Liberation Sans', Arial, sans-serif" font-weight="bold" font-size="15.8" stroke="#000" stroke-width="0.4" transform="translate(2.00,12.90) scale(0.95,1)">A</text>
<text x="42.30" y="9.40" font-family="'Liberation Serif', 'Times New Roman', serif" font-weight="bold" font-size="11.6" fill="#000" text-anchor="start" >Cytokines and Cytokine Receptors</text>
<text x="0" y="0" font-family="'Liberation Sans', Arial, sans-serif" font-weight="bold" font-size="15.8" stroke="#000" stroke-width="0.4" transform="translate(2.20,299.20) scale(0.98,1)">B</text>
<text x="42.50" y="293.80" font-family="'Liberation Serif', 'Times New Roman', serif" font-weight="bold" font-size="11.6" fill="#000" text-anchor="start" >Proteases</text>
<text x="0" y="0" font-family="'Liberation Sans', Arial, sans-serif" font-weight="bold" font-size="16.2" stroke="#000" stroke-width="0.4" transform="translate(1.90,492.60) scale(0.95,1)">C</text>
<text x="44.50" y="489.60" font-family="'Liberation Serif', 'Times New Roman', serif" font-weight="bold" font-size="11.6" fill="#000" text-anchor="start" >Adhesion molecules</text>
<text x="0" y="0" font-family="'Liberation Sans', Arial, sans-serif" font-weight="bold" font-size="15.2" stroke="#000" stroke-width="0.4" transform="translate(241.30,398.20) scale(1.0,1)">D</text>
<rect x="242.20" y="402.00" width="277.00" height="17.00" fill="#17375e" stroke="#0f2a4c" stroke-width="0.6"/>
<text x="249.50" y="415.10" font-family="'Liberation Serif', 'Times New Roman', serif" font-weight="bold" font-size="9.8" fill="#ffff00" text-anchor="start" >Elevated Serum CXCL1 level in Human Diabetic Retinopathy</text>
<line x1="357.60" y1="548.70" x2="357.60" y2="556.50" stroke="#000" stroke-width="1.1"/>
<line x1="355.80" y1="548.70" x2="359.40" y2="548.70" stroke="#000" stroke-width="1.3"/>
<rect x="341.00" y="556.50" width="32.90" height="3.50" fill="#4382dc" stroke="#1b2f55" stroke-width="0.9"/>
<line x1="440.40" y1="446.20" x2="440.40" y2="494.40" stroke="#000" stroke-width="1.1"/>
<line x1="438.60" y1="446.20" x2="442.40" y2="446.20" stroke="#000" stroke-width="1.0"/>
<rect x="424.00" y="494.40" width="32.90" height="65.60" fill="#953735" stroke="#2a0e0e" stroke-width="0.9"/>
<line x1="316.00" y1="431.50" x2="316.00" y2="560.60" stroke="#000" stroke-width="1.4"/>
<line x1="315.30" y1="560.00" x2="482.00" y2="560.00" stroke="#000" stroke-width="1.4"/>
<line x1="313.20" y1="432.20" x2="316.00" y2="432.20" stroke="#000" stroke-width="1.0"/>
<text x="307.60" y="435.60" font-family="'Liberation Serif', 'Times New Roman', serif" font-weight="bold" font-size="9.4" fill="#000" text-anchor="end" >90</text>
<line x1="313.20" y1="496.10" x2="316.00" y2="496.10" stroke="#000" stroke-width="1.0"/>
<text x="307.60" y="499.50" font-family="'Liberation Serif', 'Times New Roman', serif" font-weight="bold" font-size="9.4" fill="#000" text-anchor="end" >45</text>
<line x1="313.20" y1="560.00" x2="316.00" y2="560.00" stroke="#000" stroke-width="1.0"/>
<text x="307.60" y="563.40" font-family="'Liberation Serif', 'Times New Roman', serif" font-weight="bold" font-size="9.4" fill="#000" text-anchor="end" >0</text>
<line x1="399.70" y1="560.00" x2="399.70" y2="563.00" stroke="#000" stroke-width="1.0"/>
<line x1="481.90" y1="560.00" x2="481.90" y2="563.00" stroke="#000" stroke-width="1.0"/>
<text x="0" y="0" font-family="'Liberation Serif', 'Times New Roman', serif" font-weight="bold" font-size="14.5" text-anchor="middle" stroke="#000" stroke-width="0.3" transform="translate(434.10,444.66) scale(0.88,1)">*</text>
<text x="0" y="0" font-family="'Liberation Serif', 'Times New Roman', serif" font-weight="bold" font-size="14.5" text-anchor="middle" stroke="#000" stroke-width="0.3" transform="translate(441.00,444.66) scale(0.88,1)">*</text>
<text x="0" y="0" font-family="'Liberation Serif', 'Times New Roman', serif" font-weight="bold" font-size="14.5" text-anchor="middle" stroke="#000" stroke-width="0.3" transform="translate(447.90,444.66) scale(0.88,1)">*</text>
<text x="357.40" y="574.60" font-family="'Liberation Serif', 'Times New Roman', serif" font-weight="bold" font-size="9.7" fill="#000" text-anchor="middle" >Ctrl</text>
<text x="441.00" y="574.60" font-family="'Liberation Serif', 'Times New Roman', serif" font-weight="bold" font-size="9.7" fill="#000" text-anchor="middle" >DR</text>
<text x="0" y="0" font-family="'Liberation Serif', 'Times New Roman', serif" font-weight="bold" font-size="10" text-anchor="middle" stroke="#000" stroke-width="0.3" transform="translate(291.12,498.60) rotate(-90)">CXCL1 pg/ml</text>
</svg>
</body></html>
